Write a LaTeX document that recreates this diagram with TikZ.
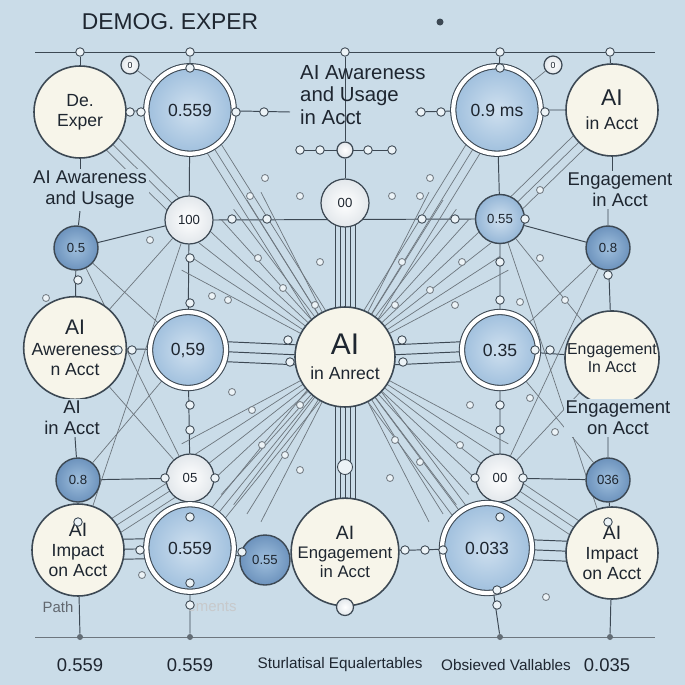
\documentclass[tikz,border=0pt]{standalone}
\usepackage{fontspec}
\setmainfont{Liberation Sans}
\usetikzlibrary{positioning,calc}
\pgfdeclarelayer{back}
\pgfsetlayers{back,main}
\definecolor{bgc}{HTML}{CADCE8}
\definecolor{linec}{HTML}{3C4853}
\definecolor{cream}{HTML}{F7F5EA}
\definecolor{blueL}{HTML}{CFE0EF}
\definecolor{blueM}{HTML}{9FBFDD}
\definecolor{blueD}{HTML}{6D93BD}
\definecolor{inkc}{HTML}{1E2630}
\tikzset{
  conn/.style={draw=linec,line width=0.55pt},
  thinc/.style={draw=linec!75,line width=0.4pt},
  bigc/.style={circle,draw=linec,line width=0.9pt,fill=cream,align=center,
    inner sep=0pt,minimum size=18.4mm,text=inkc,font=\fontsize{10}{11.5}\selectfont},
  valc/.style={circle,draw=linec,line width=0.6pt,double=white,double distance=2.4pt,
    inner color=blueL,outer color=blueM,minimum size=17.5mm,inner sep=0pt,
    text=inkc,font=\fontsize{10}{12}\selectfont},
  dotc/.style={circle,draw=linec,line width=0.8pt,inner color=blueM,outer color=blueD,
    minimum size=8.8mm,inner sep=0pt,text=inkc,font=\fontsize{7.5}{9}\selectfont},
  pale/.style={circle,draw=linec,line width=0.7pt,inner color=white,outer color=blueL!70!gray!40,
    minimum size=9.6mm,inner sep=0pt,text=inkc,font=\fontsize{7.5}{9}\selectfont},
  ring/.style={circle,draw=linec,line width=0.5pt,fill=bgc!35!white,minimum size=1.7mm,inner sep=0pt},
  lbl/.style={align=center,text=inkc,font=\fontsize{10.5}{12}\selectfont},
  side/.style={lbl,fill=bgc,inner sep=1pt},
}
\newcommand{\bigAI}[1]{{\fontsize{#1}{#1}\selectfont AI}}

\begin{document}
\begin{tikzpicture}[x=0.2mm,y=-0.2mm,>=stealth]
\useasboundingbox (0,0) rectangle (685,685);

% header and footer texts
\node[lbl,font=\fontsize{13}{14}\selectfont] (hdr) at (170,22) {DEMOG. EXPER};
\node[circle,fill=linec,inner sep=0pt,minimum size=1.4mm] (hdot) at (440,22) {};
\node[lbl,anchor=west,align=left,font=\fontsize{11.6}{12.8}\selectfont] (ttl) at (294,95)
  {AI Awareness\\and Usage\\in Acct};

% row 1
\node[bigc] (dem) at (80,112) {De.\\Exper};
\node[valc] (vA) at (190,110) {0.559};
\node[valc] (vB) at (497,110) {0.9 ms};
\node[bigc] (aiA) at (612,110) {\bigAI{13}\\[2pt]in Acct};

% small row 1
\node[dotc] (sA) at (76,248) {0.5};
\node[pale] (sB) at (189,220) {100};
\node[pale] (sC) at (345,203) {00};
\node[dotc,minimum size=9.8mm,inner color=blueL,outer color=blueM!80!blueD] (sD) at (500,219) {0.55};
\node[dotc] (sE) at (608,248) {0.8};

% row 2
\node[bigc] (awr) at (75,348) {\bigAI{12}\\Awereness\\n Acct};
\node[valc,minimum size=15.2mm] (vC) at (188,350) {0,59};
\node[bigc,minimum size=20mm] (core) at (345,357) {\bigAI{17}\\[3pt]in Anrect};
\node[valc,minimum size=15.2mm] (vD) at (500,350) {0.35};
\node[bigc,font=\fontsize{9}{10.5}\selectfont] (eng) at (612,358) {Engagement\\In Acct};

% small row 2
\node[dotc] (sF) at (78,480) {0.8};
\node[pale] (sG) at (190,478) {05};
\node[ring,minimum size=3mm] (sH) at (345,467) {};
\node[pale] (sI) at (500,478) {00};
\node[dotc] (sJ) at (608,480) {036};

% row 3
\node[bigc] (impA) at (78,550) {\bigAI{11}\\Impact\\on Acct};
\node[valc] (vE) at (190,548) {0.559};
\node[dotc,minimum size=10mm] (vF) at (265,560) {0.55};
\node[bigc,font=\fontsize{9.5}{11}\selectfont] (engB) at (345,552) {\bigAI{11}\\Engagement\\in Acct};
\node[valc,minimum size=18mm] (vG) at (487,548) {0.033};
\node[bigc] (impB) at (612,553) {\bigAI{11}\\Impact\\on Acct};

% side labels
\node[side] (lAw) at (90,190) {AI Awareness\\and Usage};
\node[side] (lEn) at (620,190) {Engagement\\in Acct};
\node[side] (lAi) at (72,418) {AI\\in Acct};
\node[side] (lEo) at (618,418) {Engagement\\on Acct};
\node[lbl,text=inkc!70,font=\fontsize{8.5}{10}\selectfont] (lPa) at (58,607) {Path};
\node[lbl,text=inkc!25,font=\fontsize{8.5}{10}\selectfont] (lEl) at (212,607) {ements};

% bottom values
\node[lbl] (bA) at (80,665) {0.559};
\node[lbl] (bB) at (190,665) {0.559};
\node[lbl,font=\fontsize{8.7}{10}\selectfont] (bC) at (340,665) {Sturlatisal Equalertables};
\node[lbl,font=\fontsize{8.7}{10}\selectfont] (bD) at (506,665) {Obsieved Vallables};
\node[lbl] (bE) at (607,665) {0.035};

% ruler marks
\foreach \x/\n in {80/a,190/b,345/c,500/d,610/e}
  \node[ring] (t\n) at (\x,52) {};
\foreach \x/\n in {80/a,190/b,500/d,610/e}
  \node[circle,fill=linec!80,inner sep=0pt,minimum size=1.2mm] (u\n) at (\x,637) {};
\coordinate (tl) at (35,52);
\coordinate (tr) at (655,52);
\coordinate (bl) at (35,637);
\coordinate (br) at (655,637);
\coordinate (ttlL) at (290,112);
\coordinate (ttlR) at (415,112);
\coordinate (hL) at (300,150);
\coordinate (hR) at (392,150);
\node[pale,minimum size=3.6mm,font=\fontsize{5}{5}\selectfont] (oA) at (130,65) {0};
\node[pale,minimum size=3.6mm,font=\fontsize{5}{5}\selectfont] (oB) at (553,65) {0};
\node[pale,minimum size=3.2mm] (mA) at (345,150) {};
\node[pale,minimum size=3.4mm] (mB) at (345,607) {};

% rings on the connectors
\foreach \p [count=\i] in {(190,68),(500,68),(130,112),(141,112),(236,112),(264,112),
    (421,112),(441,112),(545,112),(190,258),(190,303),(190,405),(190,430),(190,517),
    (190,583),(500,262),(500,300),(500,405),(500,430),(500,517),(497,590),(78,280),
    (78,522),(608,275),(608,522),(118,350),(132,350),(288,340),(290,362),(402,340),
    (403,362),(535,350),(550,350),(232,219),(267,219),(422,219),(455,219),(525,219),
    (300,150),(320,150),(368,150),(392,150),(165,478),(215,478),(475,478),(523,478),
    (140,550),(242,552),(405,550),(425,550),(443,550),(190,605),(497,605)}
  \node[ring] (k\i) at \p {};

% scattered rings
\foreach \p [count=\i] in {(265,178),(250,196),(300,196),(392,196),(430,178),(420,196),
    (258,258),(283,288),(320,262),(315,305),(228,300),(395,305),(402,262),(430,290),
    (462,262),(455,305),(540,258),(520,302),(565,300),(46,298),(212,296),(232,392),
    (252,410),(300,405),(262,445),(285,455),(395,440),(420,462),(460,445),(470,405),
    (530,398),(555,432),(540,190),(150,240),(300,470),(390,478),(142,575),(546,597)}
  \node[ring,minimum size=1.4mm,draw=linec!70] (d\i) at \p {};

\begin{pgfonlayer}{back}
\fill[bgc] (0,0) rectangle (685,685);
% rulers
\draw[conn] (tl) -- (tr);
\draw[thinc] (bl) -- (br);
% verticals
\draw[conn] (ta) -- (dem);
\draw[conn] (tb) -- (vA) -- (sB) -- (vC) -- (sG) -- (vE) -- (ub);
\draw[conn] (tc) -- (mA) -- (sC);
\draw[conn] (td) -- (vB) -- (sD) -- (vD) -- (sI) -- (vG) -- (ud);
\draw[conn] (te) -- (aiA);
\draw[conn] (dem.south) -- (dem.south |- lAw.north);
\draw[conn] (dem.south |- lAw.south) -- (sA) -- (awr);
\draw[conn] (awr) -- (awr |- lAi.north);
\draw[conn] (awr |- lAi.south) -- (sF) -- (impA) -- (ua);
\draw[conn] (aiA) -- (aiA |- lEn.north);
\draw[conn] (sE |- lEn.south) -- (sE) -- (eng);
\draw[conn] (eng) -- (eng |- lEo.north);
\draw[conn] (sJ |- lEo.south) -- (sJ) -- (impB) -- (ue);
\draw[conn] (engB) -- (mB);
\draw[thinc] (oA) -- (vA);
\draw[thinc] (oB) -- (vB);
% horizontals
\draw[conn] (dem) -- (vA) -- (ttlL);
\draw[conn] (ttlR) -- (vB) -- (aiA);
\draw[conn] (hL) -- (hR);
\draw[conn] (sA) -- (sB);
\draw[conn] (sB.east) -- (sD.west);
\draw[conn] (sD) -- (sE);
\draw[conn] (awr) -- (vC);
\draw[conn] (vD) -- (eng);
\foreach \o in {-10,0,10} {
  \draw[conn] ([shift={(0,\o)}]vC.center) -- ([shift={(0,\o)}]core.center);
  \draw[conn] ([shift={(0,\o)}]core.center) -- ([shift={(0,\o)}]vD.center);
  \draw[conn] ([shift={(0,\o)}]impA.center) -- ([shift={(0,\o)}]vE.center);
  \draw[conn] ([shift={(0,\o)}]vG.center) -- ([shift={(0,\o)}]impB.center);
}
\draw[conn] (sF) -- (sG);
\draw[conn] (sI) -- (sJ);
\draw[conn] (vE) -- (vF) -- (engB) -- (vG);
% centre bundles
\foreach \o in {-10,-5,0,5,10} {
  \draw[conn] ([shift={(\o,0)}]sC.center) -- ([shift={(\o,0)}]core.center);
  \draw[conn] ([shift={(\o,0)}]core.center) -- ([shift={(\o,0)}]engB.center);
}
% starburst round the centre
\foreach \a in {28,33,...,63} {
  \draw[thinc] (core.center) -- ++(\a:185);
  \draw[thinc] (core.center) -- ++(180-\a:185);
  \draw[thinc] (core.center) -- ++(180+\a:185);
  \draw[thinc] (core.center) -- ++(-\a:185);
}
% diagonal bundles
\foreach \o in {-6,0,6} {
  \draw[thinc] ([shift={(\o,-\o)}]dem.center) -- ([shift={(\o,-\o)}]sB.center);
  \draw[thinc] ([shift={(\o,\o)}]aiA.center) -- ([shift={(\o,\o)}]sD.center);
  \draw[thinc] ([shift={(\o,\o)}]impA.center) -- ([shift={(\o,\o)}]sG.center);
  \draw[thinc] ([shift={(\o,-\o)}]impB.center) -- ([shift={(\o,-\o)}]sI.center);
  \draw[thinc] ([shift={(\o,-\o)}]vA.center) -- ([shift={(\o,-\o)}]core.center);
  \draw[thinc] ([shift={(\o,\o)}]vB.center) -- ([shift={(\o,\o)}]core.center);
  \draw[thinc] ([shift={(\o,\o)}]vE.center) -- ([shift={(\o,\o)}]core.center);
  \draw[thinc] ([shift={(\o,-\o)}]vG.center) -- ([shift={(\o,-\o)}]core.center);
}
% crossings
\draw[thinc] (sA) -- (vC);
\draw[thinc] (awr) -- (sB);
\draw[thinc] (awr) -- (sG);
\draw[thinc] (sF) -- (vC);
\draw[thinc] (sE) -- (vD);
\draw[thinc] (eng) -- (sD);
\draw[thinc] (eng) -- (sI);
\draw[thinc] (sJ) -- (vD);
\draw[thinc] (sA) -- (sG);
\draw[thinc] (sE) -- (sI);
\draw[thinc] (sB) -- (impA);
\draw[thinc] (sD) -- (impB);
\end{pgfonlayer}
\end{tikzpicture}
\end{document}
